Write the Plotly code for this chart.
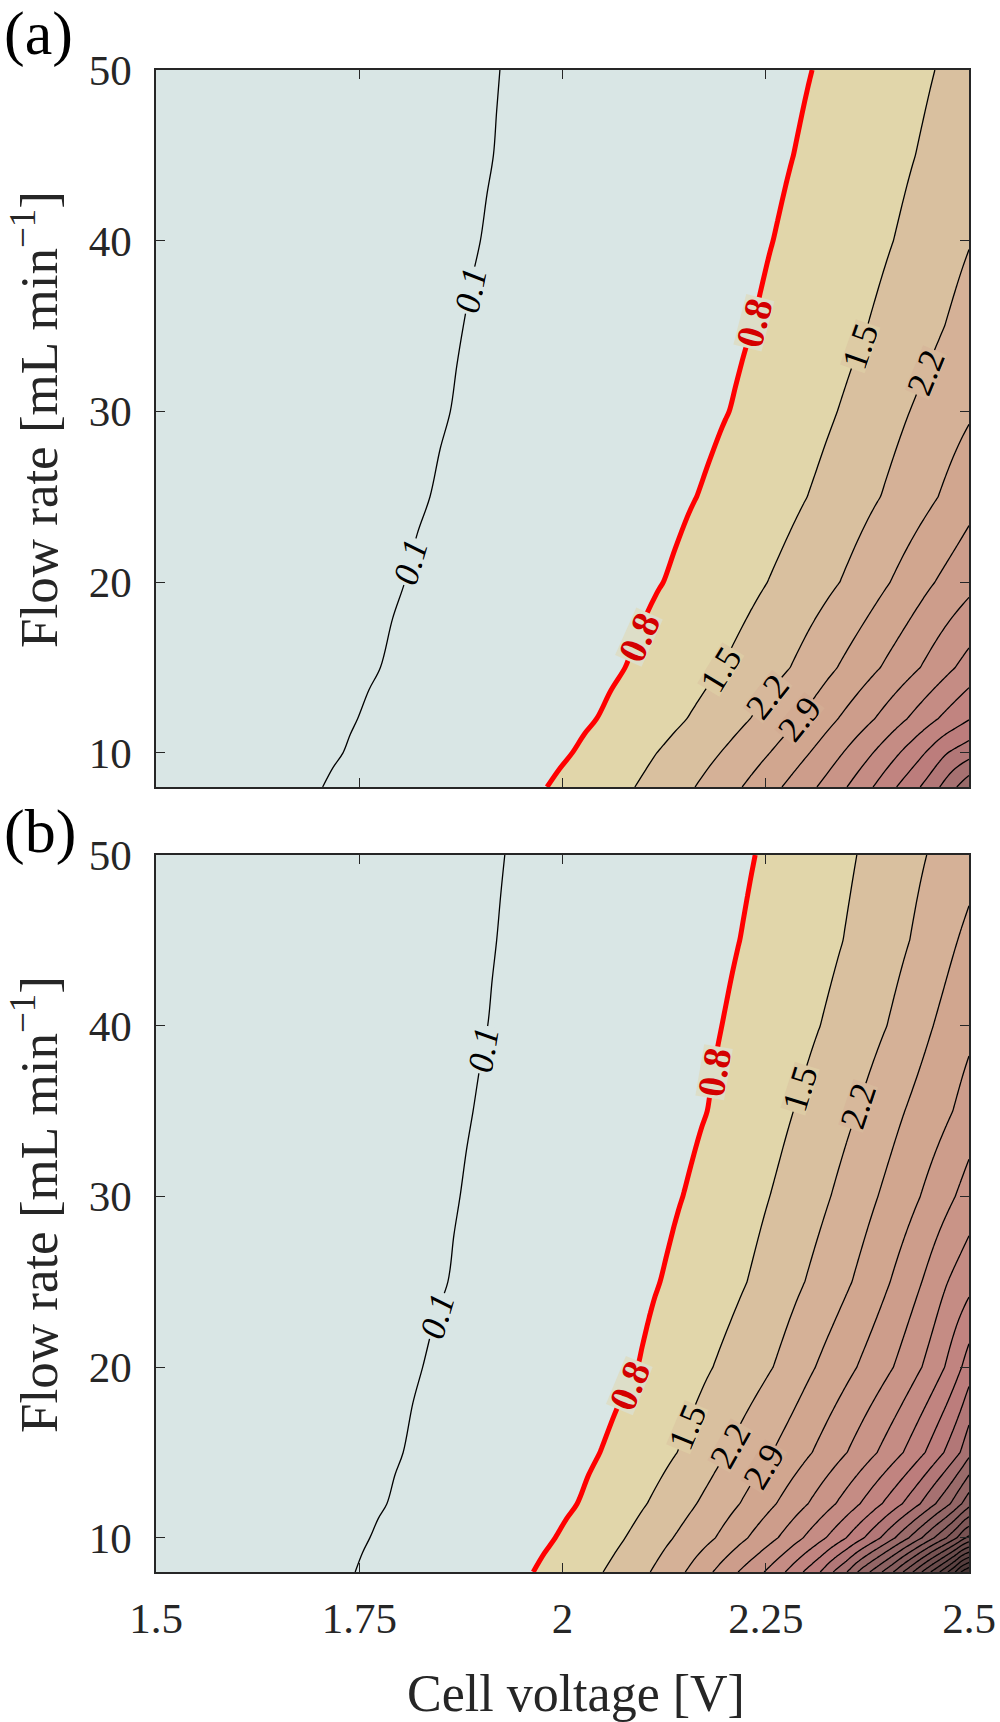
import numpy as np
import plotly.graph_objects as go

# ---------------- data ----------------
FLOW_ROWS = [8, 10, 12, 15, 20, 25, 30, 35, 40, 45, 50]          # mL/min rows
LEVEL_START = 0.1
LEVEL_STEP = 0.7
X_TICKS = [1.5, 1.75, 2.0, 2.25, 2.5]
X_TICK_TEXT = ["1.5", "1.75", "2", "2.25", "2.5"]
Y_TICKS = [10, 20, 30, 40, 50]
LEFT_EDGE_VALUE = 0.0

# Panel (a): cell voltage where contour levels 0.1, 0.8, 1.5, ... cross each flow row
A_CROSS = [
    [1.705, 1.981, 2.089, 2.163, 2.221, 2.270, 2.313, 2.350, 2.382, 2.411, 2.440, 2.464, 2.485],
    [1.730, 2.012, 2.116, 2.194, 2.255, 2.304, 2.345, 2.382, 2.415, 2.446, 2.474],
    [1.748, 2.042, 2.153, 2.231, 2.292, 2.339, 2.384, 2.424, 2.462],
    [1.776, 2.077, 2.196, 2.280, 2.338, 2.391, 2.440, 2.483],
    [1.806, 2.124, 2.252, 2.341, 2.403, 2.458],
    [1.837, 2.165, 2.301, 2.391, 2.462],
    [1.862, 2.205, 2.338, 2.427],
    [1.878, 2.234, 2.375, 2.470],
    [1.899, 2.259, 2.407],
    [1.915, 2.284, 2.434],
    [1.923, 2.307, 2.458],
]
# value at the right edge (2.5 V) for each row
A_EDGE = [9.0, 7.52, 6.36, 5.27, 4.09, 3.35, 2.82, 2.46, 2.17, 1.92, 1.75]

# Panel (b)
B_CROSS = [
    [1.745, 1.964, 2.050, 2.108, 2.151, 2.185, 2.216, 2.248, 2.274, 2.296, 2.317, 2.333, 2.350,
     2.363, 2.378, 2.393, 2.407, 2.419, 2.431, 2.442, 2.453, 2.464, 2.474, 2.483, 2.490],
    [1.763, 1.991, 2.077, 2.136, 2.188, 2.228, 2.265, 2.296, 2.324, 2.349, 2.371, 2.391, 2.409,
     2.426, 2.442, 2.457, 2.472, 2.485, 2.496],
    [1.784, 2.018, 2.104, 2.165, 2.218, 2.263, 2.302, 2.336, 2.366, 2.393, 2.418, 2.440, 2.459,
     2.477, 2.491],
    [1.804, 2.046, 2.141, 2.202, 2.258, 2.307, 2.350, 2.387, 2.419, 2.446, 2.469, 2.489],
    [1.828, 2.092, 2.185, 2.259, 2.311, 2.362, 2.407, 2.442, 2.470, 2.491],
    [1.859, 2.120, 2.227, 2.298, 2.356, 2.403, 2.442, 2.474],
    [1.874, 2.148, 2.255, 2.330, 2.388, 2.440, 2.483],
    [1.890, 2.178, 2.284, 2.362, 2.421, 2.480],
    [1.908, 2.196, 2.317, 2.399, 2.456],
    [1.919, 2.218, 2.345, 2.427, 2.486],
    [1.929, 2.237, 2.362, 2.448],
]
B_EDGE = [17.5, 12.85, 10.35, 8.3, 6.75, 5.47, 4.6, 3.91, 3.43, 3.05, 2.68]

# ---------------- style ----------------
FONT = "Liberation Serif"
AXIS_COLOR = "#262626"
RED = "#FF0000"
LABEL_RED = "#D40000"

# band colours (value at band middle -> colour)
COLOR_ANCHOR_Z = [-0.25, 0.45, 1.15, 1.85, 2.55, 3.25, 3.95, 4.65, 5.35, 6.05, 6.75,
                  7.45, 8.15, 8.85, 10.5, 12.5, 14.5, 16.5, 17.5]
COLOR_ANCHOR_HEX = ["#D9E6E5", "#D9E6E5", "#E1D6AA", "#D9C09F", "#D5B197", "#D1A68F",
                    "#CD9D8B", "#C99487", "#C58C84", "#C18480", "#BC7D7C", "#B27777",
                    "#A67171", "#9A6B6A", "#8A6060", "#765252", "#624646", "#4F3939",
                    "#443232"]

# label placement (flow rate along each labelled line)
A_LABEL_LEVELS = [0.1, 0.1, 0.8, 0.8, 1.5, 1.5, 2.2, 2.2, 2.9]
A_LABEL_FLOWS = [37.1, 21.2, 35.2, 16.8, 33.8, 14.9, 32.3, 13.3, 12.0]
B_LABEL_LEVELS = [0.1, 0.1, 0.8, 0.8, 1.5, 1.5, 2.2, 2.2, 2.9]
B_LABEL_FLOWS = [38.6, 23.0, 37.3, 18.9, 36.3, 16.5, 35.3, 15.4, 14.2]

W, H = 1000, 1722
M_L, M_R, M_T, M_B = 156, 31, 70, 150
PANEL_H = 717
GAP = 68
PLOT_W = W - M_L - M_R
INNER_H = H - M_T - M_B
PX_PER_V = PLOT_W / 1.0
PX_PER_Q = PANEL_H / 42.0


def hex_rgb(h):
    h = h.lstrip("#")
    return [int(h[i:i + 2], 16) for i in (0, 2, 4)]


ANCHOR_RGB = np.array([hex_rgb(h) for h in COLOR_ANCHOR_HEX], dtype=float)


def color_at(zv):
    return [np.interp(zv, COLOR_ANCHOR_Z, ANCHOR_RGB[:, k]) for k in range(3)]


def rgb_str(c):
    return "rgb(%d,%d,%d)" % tuple(int(round(v)) for v in c)


def pchip(xs, ys, xq):
    """Monotone piecewise-cubic curve through the read crossing points of one row."""
    xs = np.asarray(xs, float)
    ys = np.asarray(ys, float)
    xq = np.asarray(xq, float)
    h = np.diff(xs)
    delta = np.diff(ys) / h
    n = len(xs)
    d = np.zeros(n)
    for k in range(1, n - 1):
        if delta[k - 1] * delta[k] > 0:
            w1 = 2 * h[k] + h[k - 1]
            w2 = h[k] + 2 * h[k - 1]
            d[k] = (w1 + w2) / (w1 / delta[k - 1] + w2 / delta[k])
    d[0] = delta[0]
    d[-1] = delta[-1]
    idx = np.clip(np.searchsorted(xs, xq, side="right") - 1, 0, n - 2)
    t = (xq - xs[idx]) / h[idx]
    h00 = 2 * t ** 3 - 3 * t ** 2 + 1
    h10 = t ** 3 - 2 * t ** 2 + t
    h01 = -2 * t ** 3 + 3 * t ** 2
    h11 = t ** 3 - t ** 2
    return (h00 * ys[idx] + h10 * h[idx] * d[idx] + h01 * ys[idx + 1]
            + h11 * h[idx] * d[idx + 1])


def build_grid(cross, edge):
    pts = sorted(set([1.5, 2.5] + [v for row in cross for v in row]))
    volts = []
    for a, b in zip(pts[:-1], pts[1:]):
        volts += [a, (a + b) / 2]
    volts.append(pts[-1])
    z = []
    for row, zr in zip(cross, edge):
        xs = [1.5] + list(row) + [2.5]
        zs = [LEFT_EDGE_VALUE] + [LEVEL_START + LEVEL_STEP * k for k in range(len(row))] + [zr]
        z.append(pchip(xs, zs, volts).tolist())
    return volts, z


def n_levels(cross):
    return max(len(r) for r in cross)


def colorscale_for(n):
    cs = []
    for j in range(n + 1):
        zmid = LEVEL_START + (j - 0.5) * LEVEL_STEP
        cs.append([j / n, rgb_str(color_at(zmid))])
    return cs


def level_voltage(cross, level_idx, q):
    qs, vs = [], []
    for fq, row in zip(FLOW_ROWS, cross):
        if len(row) > level_idx:
            qs.append(fq)
            vs.append(row[level_idx])
    return float(np.interp(q, qs, vs))


fig = go.Figure()

panels = [
    dict(cross=A_CROSS, edge=A_EDGE, xa="x", ya="y",
         lab_lv=A_LABEL_LEVELS, lab_q=A_LABEL_FLOWS),
    dict(cross=B_CROSS, edge=B_EDGE, xa="x2", ya="y2",
         lab_lv=B_LABEL_LEVELS, lab_q=B_LABEL_FLOWS),
]

annotations = []
for p in panels:
    volts, z = build_grid(p["cross"], p["edge"])
    n = n_levels(p["cross"])
    top = LEVEL_START + LEVEL_STEP * (n - 1)
    common = dict(x=volts, y=FLOW_ROWS, z=z, xaxis=p["xa"], yaxis=p["ya"],
                  showscale=False, hoverinfo="skip", autocontour=False)
    fig.add_trace(go.Contour(
        **common,
        contours=dict(start=LEVEL_START, end=top + 1e-9, size=LEVEL_STEP,
                      coloring="fill", showlines=False),
        line=dict(width=0, smoothing=1.0), colorscale=colorscale_for(n)))
    fig.add_trace(go.Contour(
        **common,
        contours=dict(start=LEVEL_START, end=LEVEL_START, size=1, coloring="none"),
        line=dict(color="black", width=1.3, smoothing=1.0)))
    fig.add_trace(go.Contour(
        **common,
        contours=dict(start=LEVEL_START + 2 * LEVEL_STEP, end=top + 1e-9,
                      size=LEVEL_STEP, coloring="none"),
        line=dict(color="black", width=1.3, smoothing=1.0)))
    fig.add_trace(go.Contour(
        **common,
        contours=dict(start=0.8, end=0.8, size=1, coloring="none"),
        line=dict(color=RED, width=5, smoothing=1.0)))

    # contour labels
    for lv, q in zip(p["lab_lv"], p["lab_q"]):
        k = int(round((lv - LEVEL_START) / LEVEL_STEP))
        v0 = level_voltage(p["cross"], k, q)
        v_lo = level_voltage(p["cross"], k, q - 1.5)
        v_hi = level_voltage(p["cross"], k, q + 1.5)
        dx = (v_hi - v_lo) * PX_PER_V
        dy = 3.0 * PX_PER_Q
        ang = -np.degrees(np.arctan2(dy, dx))
        c_lo = color_at(lv - LEVEL_STEP / 2)
        c_hi = color_at(lv + LEVEL_STEP / 2)
        bg = rgb_str([(a + b) / 2 for a, b in zip(c_lo, c_hi)])
        fsize = 36
        if abs(lv - 0.8) < 1e-9:
            txt = "<b>0.8</b>"
            col = LABEL_RED
            fsize = 39
        elif abs(lv - 0.1) < 1e-9:
            txt = "<i>0.1</i>"
            col = "black"
        else:
            txt = "%.1f" % lv
            col = "black"
        annotations.append(dict(
            x=v0, y=q, xref=p["xa"], yref=p["ya"], text=txt, showarrow=False,
            textangle=ang, xanchor="center", yanchor="middle",
            width=int(fsize * 1.32), height=int(fsize * 0.72),
            font=dict(family=FONT, size=fsize, color=col), bgcolor=bg, borderpad=0))


def paper_x(px):
    return (px - M_L) / PLOT_W


def paper_y(py):
    return (H - M_B - py) / INNER_H


title_font = dict(family=FONT, size=52, color="#262626")
annotations += [
    dict(x=paper_x(576), y=paper_y(1693), xref="paper", yref="paper",
         text="Cell voltage [V]", showarrow=False, xanchor="center", yanchor="middle",
         font=title_font),
    dict(x=paper_x(35), y=paper_y(420), xref="paper", yref="paper",
         text="Flow rate [mL min<sup>\u22121</sup>]", showarrow=False, textangle=-90,
         xanchor="center", yanchor="middle", font=dict(title_font, size=53)),
    dict(x=paper_x(35), y=paper_y(1205), xref="paper", yref="paper",
         text="Flow rate [mL min<sup>\u22121</sup>]", showarrow=False, textangle=-90,
         xanchor="center", yanchor="middle", font=dict(title_font, size=53)),
    dict(x=paper_x(2), y=paper_y(33), xref="paper", yref="paper", text="(a)",
         showarrow=False, xanchor="left", yanchor="middle",
         font=dict(family=FONT, size=62, color="black")),
    dict(x=paper_x(2), y=paper_y(831), xref="paper", yref="paper", text="(b)",
         showarrow=False, xanchor="left", yanchor="middle",
         font=dict(family=FONT, size=62, color="black")),
]

axis_common = dict(showline=True, linecolor=AXIS_COLOR, linewidth=1.5, mirror="ticks",
                   ticks="inside", ticklen=9, tickwidth=1.3, tickcolor=AXIS_COLOR,
                   showgrid=False, zeroline=False, automargin=False,
                   tickfont=dict(family=FONT, size=43, color="#262626"))

dom_b = [0, PANEL_H / INNER_H]
dom_a = [(PANEL_H + GAP) / INNER_H, 1]

fig.update_layout(
    width=W, height=H, autosize=False,
    margin=dict(l=M_L, r=M_R, t=M_T, b=M_B, pad=0),
    paper_bgcolor="white", plot_bgcolor="white",
    showlegend=False,
    xaxis=dict(axis_common, domain=[0, 1], range=[1.5, 2.5], anchor="y",
               tickvals=X_TICKS, ticktext=X_TICK_TEXT, showticklabels=False),
    yaxis=dict(axis_common, domain=dom_a, range=[8, 50], anchor="x",
               tickvals=Y_TICKS, ticklabelstandoff=14),
    xaxis2=dict(axis_common, domain=[0, 1], range=[1.5, 2.5], anchor="y2",
                tickvals=X_TICKS, ticktext=X_TICK_TEXT, ticklabelstandoff=8),
    yaxis2=dict(axis_common, domain=dom_b, range=[8, 50], anchor="x2",
                tickvals=Y_TICKS, ticklabelstandoff=14),
    annotations=annotations,
)

fig.write_html(
    "out.html",
    config={"displayModeBar": False, "responsive": False},
    post_script="document.body.style.margin='0';document.body.style.overflow='hidden';",
)
